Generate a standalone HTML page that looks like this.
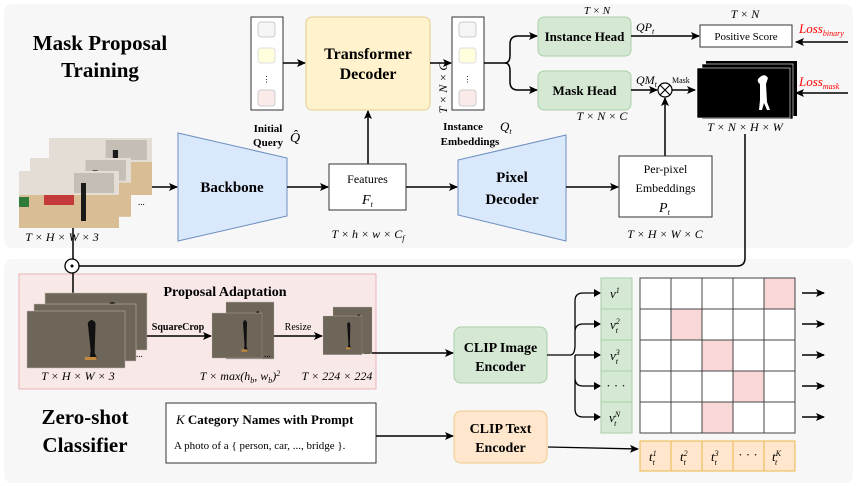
<!DOCTYPE html>
<html><head><meta charset="utf-8"><style>
html,body{margin:0;padding:0;background:#fff;}
svg{display:block;font-family:"Liberation Serif",serif;}
.b{font-weight:bold;}
.i{font-style:italic;}
</style></head><body>
<svg width="857" height="486" viewBox="0 0 857 486" xmlns="http://www.w3.org/2000/svg">
<defs>
<marker id="a" markerWidth="10" markerHeight="10" refX="8" refY="5" orient="auto" markerUnits="userSpaceOnUse"><path d="M0,1 L9,5 L0,9 L2,5 z" fill="#000"/></marker>
<g id="photo">
<rect x="0" y="0" width="100" height="57" fill="#d8cfc2"/>
<rect x="0" y="0" width="100" height="24" fill="#e3ddd5"/>
<rect x="55" y="2" width="40" height="20" fill="#c4beb4"/>
<rect x="0" y="24" width="100" height="33" fill="#d9bd94"/>
<rect x="25" y="24" width="30" height="10" fill="#c43a3a"/>
<rect x="0" y="26" width="10" height="10" fill="#2f7a3a"/>
<rect x="62" y="12" width="5" height="38" fill="#1a1a1a"/>
</g>
<g id="gp">
<rect x="0" y="0" width="100" height="57" fill="#6e6658" stroke="#c9bcb8" stroke-width="0.5"/>
<path d="M62,12 q4,-6 8,0 l-1,30 l3,6 h-8 l1,-8 z" fill="#111"/>
<rect x="59" y="46" width="12" height="3" fill="#c28a40"/>
</g>
</defs>

<rect x="4" y="4" width="849" height="244" rx="8" fill="#f7f7f7"/>
<rect x="4" y="259" width="849" height="224" rx="8" fill="#f7f7f7"/>

<text x="100" y="50" text-anchor="middle" class="b" font-size="21">Mask Proposal</text>
<text x="100" y="77" text-anchor="middle" class="b" font-size="21">Training</text>
<text x="85" y="424" text-anchor="middle" class="b" font-size="21">Zero-shot</text>
<text x="85" y="452" text-anchor="middle" class="b" font-size="21">Classifier</text>

<rect x="251" y="17" width="32" height="93" fill="#fff" stroke="#333" stroke-width="1"/>
<rect x="258" y="22" width="17" height="15" rx="3" fill="#f5f5f5" stroke="#ccc"/>
<rect x="258" y="48" width="17" height="15" rx="3" fill="#ffffdd" stroke="#ddd"/>
<text x="266.5" y="82" text-anchor="middle" font-size="8">⋮</text>
<rect x="258" y="90" width="17" height="16" rx="3" fill="#fbeaea" stroke="#ccc"/>
<line x1="283" y1="63" x2="305" y2="63" stroke="#000" stroke-width="1.5" marker-end="url(#a)"/>
<text x="268" y="132" text-anchor="middle" class="b" font-size="11">Initial</text>
<text x="268" y="146" text-anchor="middle" class="b" font-size="11">Query</text>
<text x="290" y="142" class="i" font-size="14">Q̂</text>

<rect x="306" y="17" width="124" height="93" rx="6" fill="#fff2cc" stroke="#e3cf8f"/>
<text x="368" y="59" text-anchor="middle" class="b" font-size="16">Transformer</text>
<text x="368" y="79" text-anchor="middle" class="b" font-size="16">Decoder</text>
<line x1="430" y1="63" x2="451" y2="63" stroke="#000" stroke-width="1.5" marker-end="url(#a)"/>
<line x1="368" y1="164" x2="368" y2="111" stroke="#000" stroke-width="1.5" marker-end="url(#a)"/>

<rect x="452" y="17" width="32" height="93" fill="#fff" stroke="#333"/>
<rect x="459" y="22" width="17" height="15" rx="3" fill="#f5f5f5" stroke="#ccc"/>
<rect x="459" y="48" width="17" height="15" rx="3" fill="#ffffdd" stroke="#ddd"/>
<text x="467.5" y="82" text-anchor="middle" font-size="8">⋮</text>
<rect x="459" y="90" width="17" height="16" rx="3" fill="#fbeaea" stroke="#ccc"/>
<text transform="translate(447,88) rotate(-90)" text-anchor="middle" class="i" font-size="12">T × N × C</text>
<text x="463" y="130" text-anchor="middle" class="b" font-size="11">Instance</text>
<text x="470" y="145" text-anchor="middle" class="b" font-size="11">Embeddings</text>
<text x="500" y="131" class="i" font-size="13">Q<tspan font-size="8" dy="3">t</tspan></text>
<path d="M484,63 H505 Q510,63 510,55 V44 Q510,36 518,36 H537" fill="none" stroke="#000" stroke-width="1.5" marker-end="url(#a)"/>
<path d="M505,63 Q510,63 510,71 V82 Q510,90 518,90 H537" fill="none" stroke="#000" stroke-width="1.5" marker-end="url(#a)"/>

<rect x="538" y="17" width="93" height="39" rx="6" fill="#d5e8d4" stroke="#a9cfa6"/>
<text x="584.5" y="41" text-anchor="middle" class="b" font-size="13">Instance Head</text>
<text x="597" y="14" text-anchor="middle" class="i" font-size="11">T × N</text>
<rect x="538" y="71" width="93" height="39" rx="6" fill="#d5e8d4" stroke="#a9cfa6"/>
<text x="584.5" y="95" text-anchor="middle" class="b" font-size="13">Mask Head</text>
<text x="602" y="120" text-anchor="middle" class="i" font-size="12">T × N × C</text>

<text x="636" y="31" class="i" font-size="12">QP<tspan font-size="8" dy="3">t</tspan></text>
<line x1="631" y1="36" x2="699" y2="36" stroke="#000" stroke-width="1.5" marker-end="url(#a)"/>
<rect x="700" y="25" width="92" height="22" fill="#fff" stroke="#333"/>
<text x="746" y="40" text-anchor="middle" font-size="11">Positive Score</text>
<text x="745" y="18" text-anchor="middle" class="i" font-size="12">T × N</text>
<text x="799" y="33" class="i" font-size="13" fill="#ff0000">Loss<tspan font-size="8" dy="3">binary</tspan></text>
<line x1="848" y1="42" x2="796" y2="42" stroke="#000" stroke-width="1.5" marker-end="url(#a)"/>

<text x="636" y="84" class="i" font-size="12">QM<tspan font-size="8" dy="3">t</tspan></text>
<line x1="631" y1="90" x2="657" y2="90" stroke="#000" stroke-width="1.5" marker-end="url(#a)"/>
<circle cx="665" cy="90" r="7" fill="#fff" stroke="#000" stroke-width="1.2"/>
<path d="M660,85 L670,95 M670,85 L660,95" stroke="#000" stroke-width="1.2"/>
<text x="672" y="83" font-size="8">Mask</text>
<line x1="672" y1="90" x2="695" y2="90" stroke="#000" stroke-width="1.5" marker-end="url(#a)"/>
<line x1="665" y1="156" x2="665" y2="98" stroke="#000" stroke-width="1.5" marker-end="url(#a)"/>

<rect x="706" y="61" width="91" height="55" fill="#000"/>
<rect x="702" y="64" width="91" height="55" fill="#000" stroke="#fff" stroke-width="0.6"/>
<rect x="697" y="68" width="93" height="50" fill="#000" stroke="#fff" stroke-width="0.6"/>
<path d="M760,77 q5,-4 8,1 l-2,6 l1,18 l3,8 h-3 l-3,-7 l-2,7 h-3 l1,-10 l0,-16 q-3,-2 -2,-5 z" fill="#fff"/>
<text x="799" y="86" class="i" font-size="13" fill="#ff0000">Loss<tspan font-size="8" dy="3">mask</tspan></text>
<line x1="848" y1="93" x2="796" y2="93" stroke="#000" stroke-width="1.5" marker-end="url(#a)"/>
<text x="745" y="131" text-anchor="middle" class="i" font-size="12">T × N × H × W</text>

<use href="#photo" transform="translate(49,138) scale(1.03,1)"/>
<use href="#photo" transform="translate(30,158) scale(1.01,1.03)"/>
<use href="#photo" transform="translate(19,171)"/>
<text x="138" y="205" font-size="9">...</text>
<text x="62" y="241" text-anchor="middle" class="i" font-size="12">T × H × W × 3</text>
<line x1="152" y1="187" x2="177" y2="187" stroke="#000" stroke-width="1.5" marker-end="url(#a)"/>

<polygon points="178,133 287,158 287,216 178,241" fill="#dae8fc" stroke="#6c8ebf"/>
<text x="232" y="192" text-anchor="middle" class="b" font-size="15">Backbone</text>
<line x1="287" y1="187" x2="328" y2="187" stroke="#000" stroke-width="1.5" marker-end="url(#a)"/>

<rect x="329" y="164" width="77" height="46" fill="#fff" stroke="#333"/>
<text x="367.5" y="183" text-anchor="middle" font-size="12">Features</text>
<text x="362" y="204" class="i" font-size="14">F<tspan font-size="8" dy="3">t</tspan></text>
<text x="368" y="238" text-anchor="middle" class="i" font-size="12">T × h × w × C<tspan font-size="8" dy="3">f</tspan></text>
<line x1="406" y1="187" x2="457" y2="187" stroke="#000" stroke-width="1.5" marker-end="url(#a)"/>

<polygon points="458,160 566,135 566,241 458,215" fill="#dae8fc" stroke="#6c8ebf"/>
<text x="512" y="182" text-anchor="middle" class="b" font-size="15">Pixel</text>
<text x="512" y="204" text-anchor="middle" class="b" font-size="15">Decoder</text>
<line x1="566" y1="187" x2="618" y2="187" stroke="#000" stroke-width="1.5" marker-end="url(#a)"/>
<rect x="619" y="156" width="93" height="61" fill="#fff" stroke="#333"/>
<text x="665.5" y="173" text-anchor="middle" font-size="12">Per-pixel</text>
<text x="665.5" y="192" text-anchor="middle" font-size="12">Embeddings</text>
<text x="659" y="212" class="i" font-size="14">P<tspan font-size="8" dy="3">t</tspan></text>
<text x="665" y="238" text-anchor="middle" class="i" font-size="12">T × H × W × C</text>

<path d="M745,134 V258 Q745,266 737,266 H79" fill="none" stroke="#000" stroke-width="1.5"/>
<line x1="73" y1="228" x2="73" y2="259" stroke="#000" stroke-width="1.5"/>
<circle cx="72" cy="266" r="7" fill="#fff" stroke="#000" stroke-width="1.3"/>
<circle cx="72" cy="266" r="1.5" fill="#000"/>

<rect x="19" y="274" width="357" height="115" fill="#f8e8e8" stroke="#e8b4b4"/>
<line x1="73" y1="273" x2="73" y2="293" stroke="#000" stroke-width="1.5"/>
<text x="225" y="296" text-anchor="middle" class="b" font-size="14">Proposal Adaptation</text>
<use href="#gp" transform="translate(45,293) scale(1.02,1)"/>
<use href="#gp" transform="translate(34,304) scale(1.02,1)"/>
<use href="#gp" transform="translate(27,311) scale(0.98,1)"/>
<text x="136" y="357" font-size="9">...</text>
<text x="78" y="380" text-anchor="middle" class="i" font-size="12">T × H × W × 3</text>
<text x="178" y="330" text-anchor="middle" class="b" font-size="10">SquareCrop</text>
<line x1="147" y1="336" x2="211" y2="336" stroke="#000" stroke-width="1.5" marker-end="url(#a)"/>
<use href="#gp" transform="translate(226,302) scale(0.48,1)"/>
<use href="#gp" transform="translate(212,313) scale(0.5,0.79)"/>
<text x="264" y="357" font-size="9">...</text>
<text x="240" y="380" text-anchor="middle" class="i" font-size="12">T × max(h<tspan font-size="8" dy="3">b</tspan><tspan dy="-3">, w</tspan><tspan font-size="8" dy="3">b</tspan><tspan dy="-3">)</tspan><tspan font-size="8" dy="-4">2</tspan></text>
<text x="298" y="330" text-anchor="middle" font-size="10">Resize</text>
<line x1="274" y1="336" x2="322" y2="336" stroke="#000" stroke-width="1.5" marker-end="url(#a)"/>
<use href="#gp" transform="translate(333,307) scale(0.39,0.82)"/>
<use href="#gp" transform="translate(323,316) scale(0.39,0.68)"/>
<text x="364" y="354" font-size="8">...</text>
<text x="337" y="380" text-anchor="middle" class="i" font-size="12">T × 224 × 224</text>
<line x1="372" y1="353" x2="453" y2="353" stroke="#000" stroke-width="1.5" marker-end="url(#a)"/>

<rect x="454" y="327" width="93" height="56" rx="7" fill="#d5e8d4" stroke="#a9cfa6"/>
<text x="500.5" y="352" text-anchor="middle" class="b" font-size="14">CLIP Image</text>
<text x="500.5" y="371" text-anchor="middle" class="b" font-size="14">Encoder</text>
<path d="M547,355 H570 M570,355 Q575,355 575,345 V301 Q575,293 583,293 H600 M575,300 V332 Q575,324 583,324 H600 M575,355 H600 M575,355 V378 Q575,386 583,386 H600 M575,378 V409 Q575,417 583,417 H600" fill="none" stroke="#000" stroke-width="1.3"/>
<g fill="#000">
<path d="M601,293 l-7,-4 v8 z"/><path d="M601,324 l-7,-4 v8 z"/><path d="M601,355 l-7,-4 v8 z"/><path d="M601,386 l-7,-4 v8 z"/><path d="M601,417 l-7,-4 v8 z"/>
</g>

<g fill="#d5e8d4" stroke="#a9cfa6">
<rect x="601" y="278" width="31" height="31"/><rect x="601" y="309" width="31" height="31"/><rect x="601" y="340" width="31" height="31"/><rect x="601" y="371" width="31" height="31"/><rect x="601" y="402" width="31" height="31"/>
</g>
<g class="i" font-size="13">
<text x="610" y="298">v<tspan font-size="8" dy="-5">1</tspan></text>
<text x="610" y="329">v<tspan font-size="8" dy="-5">2</tspan><tspan font-size="8" dx="-4" dy="9">t</tspan></text>
<text x="610" y="360">v<tspan font-size="8" dy="-5">3</tspan><tspan font-size="8" dx="-4" dy="9">t</tspan></text>
<text x="616" y="390" text-anchor="middle" font-style="normal">· · ·</text>
<text x="609" y="422">v<tspan font-size="8" dy="-5">N</tspan><tspan font-size="8" dx="-6" dy="9">t</tspan></text>
</g>

<rect x="640" y="278" width="155" height="155" fill="#fff"/>
<g fill="#f8d7d7">
<rect x="764" y="278" width="31" height="31"/>
<rect x="671" y="309" width="31" height="31"/>
<rect x="702" y="340" width="31" height="31"/>
<rect x="733" y="371" width="31" height="31"/>
<rect x="702" y="402" width="31" height="31"/>
</g>
<g stroke="#444" stroke-width="1">
<rect x="640" y="278" width="155" height="155" fill="none"/>
<line x1="671" y1="278" x2="671" y2="433"/><line x1="702" y1="278" x2="702" y2="433"/><line x1="733" y1="278" x2="733" y2="433"/><line x1="764" y1="278" x2="764" y2="433"/>
<line x1="640" y1="309" x2="795" y2="309"/><line x1="640" y1="340" x2="795" y2="340"/><line x1="640" y1="371" x2="795" y2="371"/><line x1="640" y1="402" x2="795" y2="402"/>
</g>
<g stroke="#000" stroke-width="1.5">
<line x1="802" y1="293" x2="824" y2="293" marker-end="url(#a)"/>
<line x1="802" y1="324" x2="824" y2="324" marker-end="url(#a)"/>
<line x1="802" y1="355" x2="824" y2="355" marker-end="url(#a)"/>
<line x1="802" y1="386" x2="824" y2="386" marker-end="url(#a)"/>
<line x1="802" y1="417" x2="824" y2="417" marker-end="url(#a)"/>
</g>

<rect x="166" y="403" width="210" height="60" fill="#fff" stroke="#333"/>
<text x="176" y="424" font-size="13"><tspan class="i">K</tspan><tspan class="b"> Category Names with Prompt</tspan></text>
<text x="174" y="449" font-size="11">A photo of a { person, car, ..., bridge }.</text>
<line x1="376" y1="436" x2="453" y2="436" stroke="#000" stroke-width="1.5" marker-end="url(#a)"/>
<rect x="454" y="411" width="93" height="52" rx="7" fill="#ffe6cc" stroke="#f0c98a"/>
<text x="500.5" y="433" text-anchor="middle" class="b" font-size="14">CLIP Text</text>
<text x="500.5" y="452" text-anchor="middle" class="b" font-size="14">Encoder</text>
<line x1="548" y1="447" x2="638" y2="449" stroke="#000" stroke-width="1.3" marker-end="url(#a)"/>

<g fill="#ffe6cc" stroke="#e8b84a">
<rect x="640" y="441" width="31" height="30"/><rect x="671" y="441" width="31" height="30"/><rect x="702" y="441" width="31" height="30"/><rect x="733" y="441" width="31" height="30"/><rect x="764" y="441" width="31" height="30"/>
</g>
<g class="i" font-size="13">
<text x="649" y="461">t<tspan font-size="8" dy="-5">1</tspan><tspan font-size="8" dx="-4" dy="9">t</tspan></text>
<text x="680" y="461">t<tspan font-size="8" dy="-5">2</tspan><tspan font-size="8" dx="-4" dy="9">t</tspan></text>
<text x="711" y="461">t<tspan font-size="8" dy="-5">3</tspan><tspan font-size="8" dx="-4" dy="9">t</tspan></text>
<text x="748" y="459" text-anchor="middle" font-style="normal">· · ·</text>
<text x="772" y="461">t<tspan font-size="8" dy="-5">K</tspan><tspan font-size="8" dx="-6" dy="9">t</tspan></text>
</g>
</svg>
</body></html>
